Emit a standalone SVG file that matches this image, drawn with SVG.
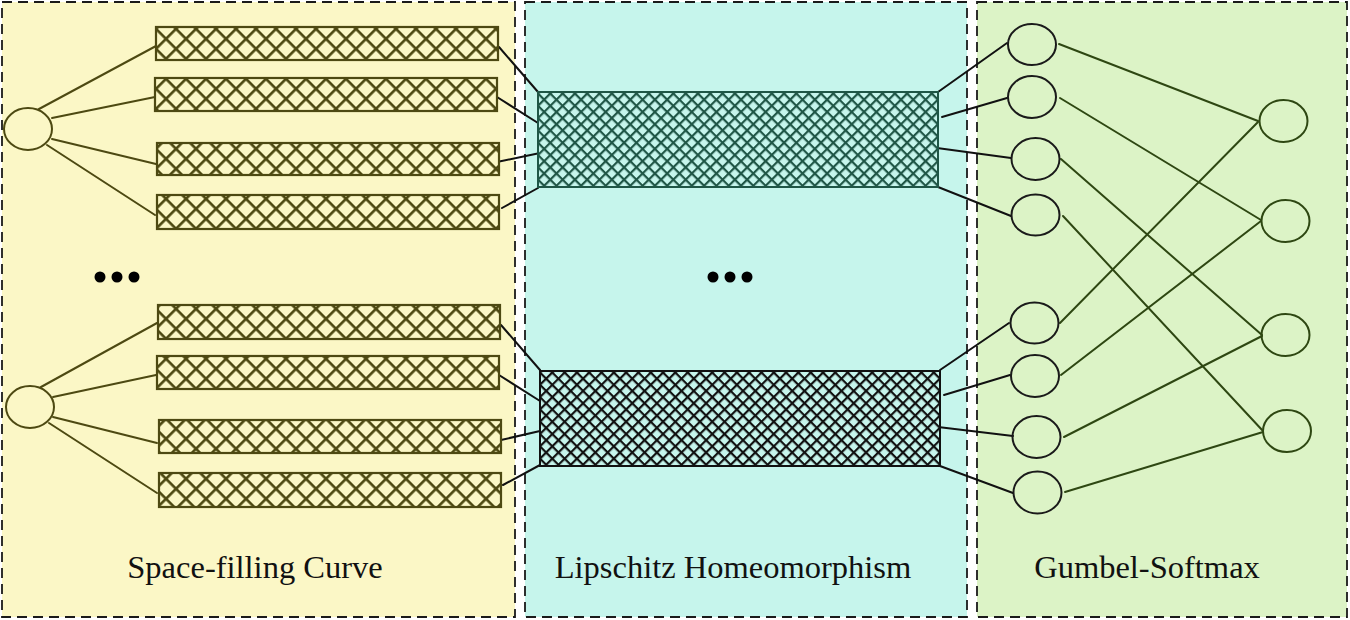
<svg xmlns="http://www.w3.org/2000/svg" width="1350" height="620" viewBox="0 0 1350 620">
<defs>
<pattern id="hatchY" patternUnits="userSpaceOnUse" width="14.14" height="14.14" patternTransform="translate(156,27) rotate(45)">
<rect x="0" y="0" width="14.14" height="14.14" fill="#fbf7c6"/>
<rect x="0" y="0" width="14.14" height="2.6" fill="#4d4912"/>
<rect x="0" y="0" width="2.6" height="14.14" fill="#4d4912"/>
</pattern>
<pattern id="hatchT" patternUnits="userSpaceOnUse" width="8.7" height="8.7" patternTransform="translate(538,92) rotate(45)">
<rect x="0" y="0" width="8.7" height="8.7" fill="#c6f5ec"/>
<rect x="0" y="0" width="8.7" height="2.2" fill="#1f5646"/>
<rect x="0" y="0" width="2.2" height="8.7" fill="#1f5646"/>
</pattern>
<pattern id="hatchK" patternUnits="userSpaceOnUse" width="8.7" height="8.7" patternTransform="translate(540,371) rotate(45)">
<rect x="0" y="0" width="8.7" height="8.7" fill="#c6f5ec"/>
<rect x="0" y="0" width="8.7" height="2.2" fill="#111"/>
<rect x="0" y="0" width="2.2" height="8.7" fill="#111"/>
</pattern>
</defs>
<style>
.panel{stroke:#1a1a1a;stroke-width:1.8;stroke-dasharray:10 6}
.bar{fill:url(#hatchY);stroke:#4d4912;stroke-width:2.2}
.oel{fill:none;stroke:#4d4912;stroke-width:2}
.bel{fill:none;stroke:#1a1a1a;stroke-width:2}
.gel{fill:none;stroke:#2e4712;stroke-width:2}
.ol{stroke:#4d4912;stroke-width:2}
.bl{stroke:#111;stroke-width:2}
.gl{stroke:#2e4712;stroke-width:2}
.lbl{font-family:"Liberation Serif","Times New Roman",serif;font-size:32.5px;fill:#111;text-anchor:middle}
.dot{fill:#000}
</style>
<rect width="1350" height="620" fill="#fff"/>
<g id="panels">
<rect class="panel" x="2" y="2" width="513" height="615" fill="#fbf7c6"/>
<rect class="panel" x="525" y="2" width="442" height="615" fill="#c6f5ec"/>
<rect class="panel" x="977" y="2" width="370" height="615" fill="#dcf3c6"/>
</g>
<g id="connectors" fill="none" stroke-linecap="round">
<line class="ol" x1="39" y1="109" x2="156" y2="46"/>
<line class="ol" x1="52" y1="118" x2="155" y2="97"/>
<line class="ol" x1="52" y1="139" x2="156" y2="164"/>
<line class="ol" x1="47" y1="145" x2="155" y2="215"/>
<line class="ol" x1="41" y1="387" x2="157" y2="323"/>
<line class="ol" x1="53" y1="397" x2="156" y2="375"/>
<line class="ol" x1="53" y1="417" x2="157" y2="443"/>
<line class="ol" x1="49" y1="423" x2="157" y2="493"/>
<line class="bl" x1="499" y1="47" x2="538" y2="92"/>
<line class="bl" x1="497" y1="97" x2="538" y2="123"/>
<line class="bl" x1="497" y1="162" x2="540" y2="153"/>
<line class="bl" x1="502" y1="208" x2="538" y2="188"/>
<line class="bl" x1="501" y1="325" x2="540" y2="370"/>
<line class="bl" x1="499" y1="375" x2="540" y2="401"/>
<line class="bl" x1="501" y1="440" x2="540" y2="431"/>
<line class="bl" x1="503" y1="485" x2="540" y2="465"/>
<line class="bl" x1="938" y1="92" x2="1007" y2="43"/>
<line class="bl" x1="942" y1="117" x2="1007" y2="98"/>
<line class="bl" x1="937" y1="148" x2="1011" y2="158"/>
<line class="bl" x1="938" y1="187" x2="1011" y2="216"/>
<line class="bl" x1="940" y1="370" x2="1009" y2="323"/>
<line class="bl" x1="944" y1="395" x2="1010" y2="375"/>
<line class="bl" x1="938" y1="427" x2="1013" y2="436"/>
<line class="bl" x1="940" y1="466" x2="1013" y2="493"/>
<line class="gl" x1="1059" y1="44" x2="1258" y2="121"/>
<line class="gl" x1="1060" y1="98" x2="1261" y2="220"/>
<line class="gl" x1="1061" y1="159" x2="1262" y2="335"/>
<line class="gl" x1="1063" y1="216" x2="1263" y2="431"/>
<line class="gl" x1="1060" y1="323" x2="1258" y2="122"/>
<line class="gl" x1="1061" y1="375" x2="1261" y2="221"/>
<line class="gl" x1="1064" y1="437" x2="1262" y2="336"/>
<line class="gl" x1="1065" y1="492" x2="1263" y2="432"/>
</g>
<g id="sfc-in-1"><ellipse class="oel" cx="28" cy="129" rx="24" ry="21"/></g>
<g id="sfc-in-2"><ellipse class="oel" cx="30" cy="407" rx="24" ry="21"/></g>
<g id="sfc-bar-1"><rect class="bar" x="156" y="27" width="342" height="33"/></g>
<g id="sfc-bar-2"><rect class="bar" x="155" y="78" width="342" height="33"/></g>
<g id="sfc-bar-3"><rect class="bar" x="157" y="143" width="342" height="32"/></g>
<g id="sfc-bar-4"><rect class="bar" x="157" y="195" width="342" height="34"/></g>
<g id="sfc-bar-5"><rect class="bar" x="158" y="305" width="342" height="34"/></g>
<g id="sfc-bar-6"><rect class="bar" x="157" y="356" width="342" height="33"/></g>
<g id="sfc-bar-7"><rect class="bar" x="159" y="420" width="342" height="33"/></g>
<g id="sfc-bar-8"><rect class="bar" x="159" y="473" width="342" height="34"/></g>
<g id="sfc-dots"><circle class="dot" cx="100" cy="277" r="5.5"/><circle class="dot" cx="117" cy="277" r="5.5"/><circle class="dot" cx="134" cy="277" r="5.5"/></g>
<g id="lh-1"><rect x="538" y="92" width="400" height="95" fill="url(#hatchT)" stroke="#1f5646" stroke-width="2"/></g>
<g id="lh-2"><rect x="540" y="371" width="400" height="95" fill="url(#hatchK)" stroke="#111" stroke-width="2"/></g>
<g id="lh-dots"><circle class="dot" cx="713" cy="277" r="5.5"/><circle class="dot" cx="730" cy="277" r="5.5"/><circle class="dot" cx="747" cy="277" r="5.5"/></g>
<g id="gs-a1"><ellipse class="bel" cx="1032" cy="44.5" rx="24" ry="20.5"/></g>
<g id="gs-a2"><ellipse class="bel" cx="1032" cy="97" rx="24" ry="21"/></g>
<g id="gs-a3"><ellipse class="bel" cx="1035.5" cy="159" rx="24" ry="21"/></g>
<g id="gs-a4"><ellipse class="bel" cx="1035.5" cy="215" rx="24" ry="20.5"/></g>
<g id="gs-a5"><ellipse class="bel" cx="1034.5" cy="323" rx="24" ry="20.5"/></g>
<g id="gs-a6"><ellipse class="bel" cx="1035" cy="376" rx="24" ry="21"/></g>
<g id="gs-a7"><ellipse class="bel" cx="1036.5" cy="437" rx="24" ry="21"/></g>
<g id="gs-a8"><ellipse class="bel" cx="1037.5" cy="492.5" rx="24" ry="21"/></g>
<g id="gs-b1"><ellipse class="gel" cx="1283.5" cy="121" rx="24" ry="21"/></g>
<g id="gs-b2"><ellipse class="gel" cx="1285.5" cy="221" rx="24" ry="21"/></g>
<g id="gs-b3"><ellipse class="gel" cx="1285.5" cy="335" rx="24" ry="21"/></g>
<g id="gs-b4"><ellipse class="gel" cx="1287" cy="431" rx="24" ry="21"/></g>
<g id="labels">
<text class="lbl" x="255" y="578">Space-filling Curve</text>
<text class="lbl" x="733" y="578">Lipschitz Homeomorphism</text>
<text class="lbl" x="1147" y="578">Gumbel-Softmax</text>
</g>
</svg>
